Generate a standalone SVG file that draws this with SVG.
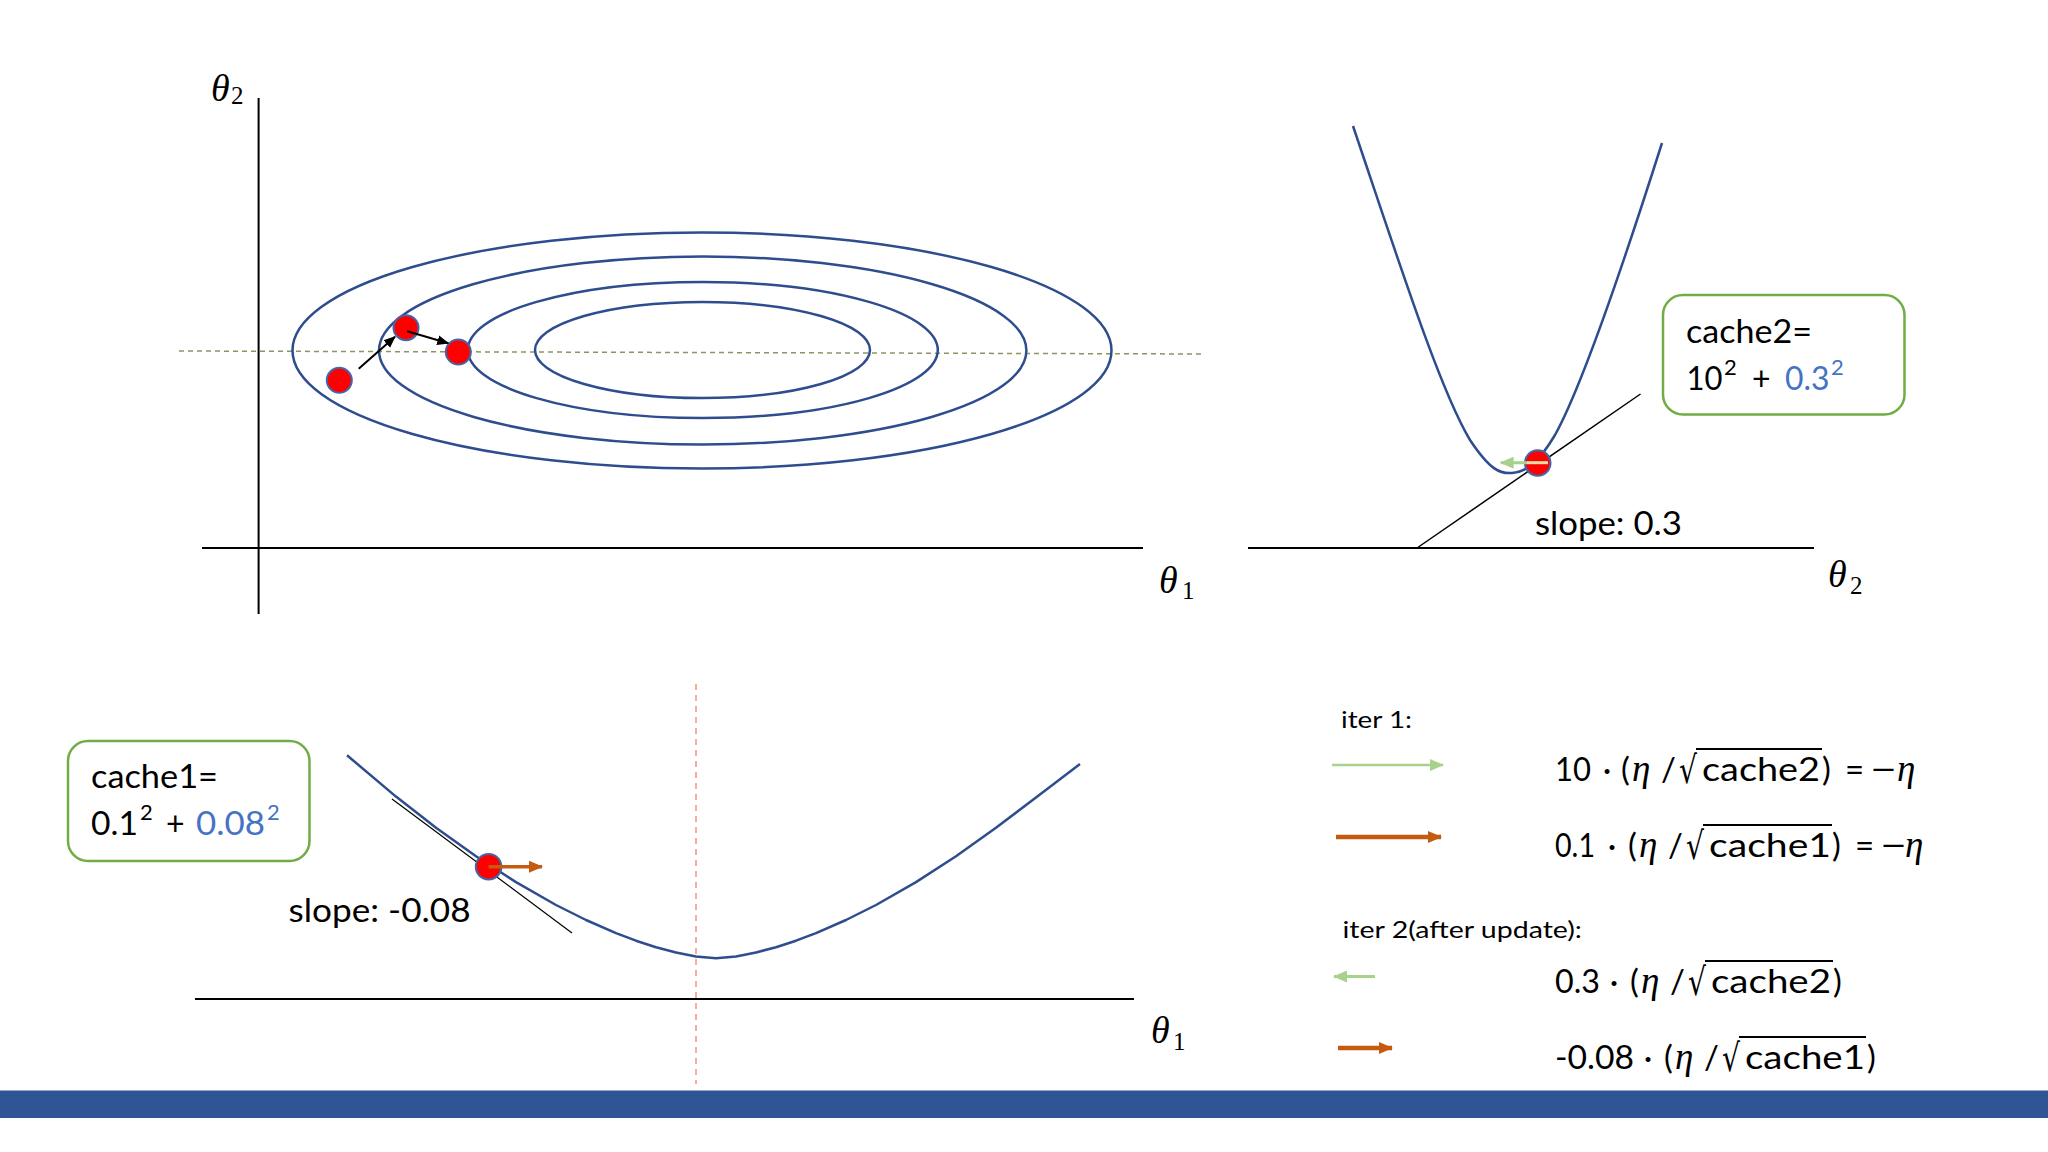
<svg xmlns="http://www.w3.org/2000/svg" width="2048" height="1152" viewBox="0 0 2048 1152">
<style>
 .t{font-family:Lato,"Open Sans",sans-serif;fill:#000}
 .blue{fill:#4472c4}
 .th{font-family:"Liberation Serif","DejaVu Serif",serif;font-style:italic;font-size:38px;fill:#000}
 .sub{font-family:"Liberation Serif","DejaVu Serif",serif;font-size:25px;fill:#000}
 .eta{font-family:"Liberation Serif","DejaVu Serif",serif;font-style:italic;font-size:37px;fill:#000}
 .rad{font-family:"DejaVu Sans",sans-serif;font-size:38px;fill:#000}
 .contour{fill:none;stroke:#2e4d8e;stroke-width:2.5;stroke-linejoin:round}
 .axis{stroke:#000;stroke-width:2}
 .dot{fill:#ff0000;stroke:#4466aa;stroke-width:2}
 .box{fill:#fff;stroke:#70ad47;stroke-width:2.5}
 .vinc{stroke:#000;stroke-width:2}
 .eq{font-size:33px}
 .lab{font-size:32px}
 .sup{font-size:22px}
 .it{font-size:24px}
</style>
<defs>
 <marker id="ahBlack" viewBox="0 0 12 12" refX="11" refY="6" markerWidth="12" markerHeight="12" markerUnits="userSpaceOnUse" orient="auto"><path d="M0,1 L12,6 L0,11 z" fill="#000"/></marker>
 <marker id="ahGreen" viewBox="0 0 14 12" refX="13" refY="6" markerWidth="14" markerHeight="12" markerUnits="userSpaceOnUse" orient="auto"><path d="M0,0 L14,6 L0,12 z" fill="#a9d18e"/></marker>
 <marker id="ahOrange" viewBox="0 0 14 12" refX="13" refY="6" markerWidth="14" markerHeight="12" markerUnits="userSpaceOnUse" orient="auto"><path d="M0,0 L14,6 L0,12 z" fill="#c55a11"/></marker>
</defs>
<rect width="2048" height="1152" fill="#fff"/>

<!-- top-left contour plot -->
<g id="contour-plot">
 <line class="axis" x1="258.6" y1="98" x2="258.6" y2="614"/>
 <line class="axis" x1="202" y1="548" x2="1143" y2="548"/>
 <line x1="179" y1="351" x2="1204" y2="354" stroke="#8a9660" stroke-width="1.5" stroke-dasharray="5,4"/>
 <ellipse class="contour" cx="702" cy="350.5" rx="409.5" ry="118"/>
 <ellipse class="contour" cx="702.7" cy="350.5" rx="323.7" ry="94"/>
 <ellipse class="contour" cx="702.8" cy="350" rx="235" ry="68"/>
 <ellipse class="contour" cx="702.5" cy="350" rx="167.5" ry="48"/>
 <text class="th" x="211" y="101">θ</text><text class="sub" x="231" y="104">2</text>
 <text class="th" x="1159" y="593">θ</text><text class="sub" x="1182" y="599">1</text>
</g>
<g id="dot-a"><circle class="dot" cx="339.3" cy="380.3" r="12.5"/></g>
<g id="dot-b"><circle class="dot" cx="406" cy="327.7" r="12.5"/></g>
<g id="dot-c"><circle class="dot" cx="458.3" cy="352" r="12.5"/></g>

<!-- top-right theta2 slice -->
<g id="theta2-plot">
 <line class="axis" x1="1248" y1="548" x2="1814" y2="548"/>
 <path class="contour" d="M1353,126 C1400,265 1440,390 1470,440 C1490,470 1500,474 1512,473 C1528,472 1540,460 1555,435 C1580,390 1620,275 1662,143"/>
 <line x1="1417" y1="548" x2="1640.5" y2="394" stroke="#000" stroke-width="1.5"/>
 <text class="th" x="1828" y="587">θ</text><text class="sub" x="1850" y="594">2</text>
 <text class="t lab" x="1535" y="535" textLength="147" lengthAdjust="spacingAndGlyphs">slope: 0.3</text>
</g>
<g id="dot-theta2">
 <circle class="dot" cx="1537.7" cy="463" r="12.8"/>
</g>
<g id="cache2-box">
 <rect class="box" x="1663" y="295" width="241.5" height="119.5" rx="20"/>
 <text class="t lab" x="1686" y="343" textLength="126" lengthAdjust="spacingAndGlyphs">cache2=</text>
 <text class="t lab" x="1686.5" y="390" textLength="36" lengthAdjust="spacingAndGlyphs">10</text>
 <text class="t sup" x="1724" y="375">2</text>
 <text class="t lab" x="1752" y="390">+</text>
 <text class="t lab blue" x="1785" y="390" textLength="44.5" lengthAdjust="spacingAndGlyphs">0.3</text>
 <text class="t sup blue" x="1831" y="375">2</text>
</g>

<!-- bottom-left theta1 slice -->
<g id="theta1-plot">
 <line x1="696" y1="684" x2="696" y2="1084" stroke="#f0937a" stroke-width="1.5" stroke-dasharray="6,5"/>
 <line class="axis" x1="195" y1="999" x2="1134" y2="999"/>
 <path class="contour" d="M347,755.3 L396,796.6 L436,827.7 L476,856.3 L516,882.1 L556,905 L586,920 L616,933.2 L636,940.7 L656,947.2 L676,952.5 L696,956.4 L716,958.3 L736,956.4 L756,952.5 L776,947.2 L796,940.7 L816,933.2 L846,920 L876,905 L916,882.1 L956,856.3 L996,827.7 L1036,797.5 L1080,764"/>
 <line x1="392" y1="799" x2="572" y2="933" stroke="#000" stroke-width="1.2"/>
 <text class="th" x="1151" y="1043">θ</text><text class="sub" x="1173" y="1050">1</text>
 <text class="t lab" x="288.6" y="921.7" textLength="182" lengthAdjust="spacingAndGlyphs">slope: -0.08</text>
</g>
<g id="dot-theta1"><circle class="dot" cx="488.6" cy="866.7" r="12.8"/></g>
<g id="cache1-box">
 <rect class="box" x="68" y="741" width="241.5" height="120" rx="20"/>
 <text class="t lab" x="91" y="788" textLength="127" lengthAdjust="spacingAndGlyphs">cache1=</text>
 <text class="t lab" x="91" y="835" textLength="47" lengthAdjust="spacingAndGlyphs">0.1</text>
 <text class="t sup" x="140" y="820">2</text>
 <text class="t lab" x="166" y="835">+</text>
 <text class="t lab blue" x="196" y="835" textLength="69" lengthAdjust="spacingAndGlyphs">0.08</text>
 <text class="t sup blue" x="267" y="820">2</text>
</g>

<!-- connectors / arrows -->
<g id="connectors">
 <line x1="358.7" y1="368.7" x2="395" y2="336.7" stroke="#000" stroke-width="2" marker-end="url(#ahBlack)"/>
 <line x1="407.3" y1="331.3" x2="448.3" y2="343.3" stroke="#000" stroke-width="2" marker-end="url(#ahBlack)"/>
 <line x1="1548" y1="462.7" x2="1500.7" y2="462.7" stroke="#a9d18e" stroke-width="3" marker-end="url(#ahGreen)"/>
 <line x1="1527" y1="462.7" x2="1548" y2="462.7" stroke="#f1d9a6" stroke-width="2.5"/>
 <line x1="488.6" y1="866.7" x2="542" y2="866.7" stroke="#c55a11" stroke-width="3.5" marker-end="url(#ahOrange)"/>
</g>

<!-- legend / equations -->
<g id="legend">
 <text class="t it" x="1341" y="728" textLength="71" lengthAdjust="spacingAndGlyphs">iter 1:</text>
 <line x1="1332" y1="765" x2="1443" y2="765" stroke="#a9d18e" stroke-width="2.5" marker-end="url(#ahGreen)"/>
 <line x1="1336" y1="837" x2="1441" y2="837" stroke="#c55a11" stroke-width="4.5" marker-end="url(#ahOrange)"/>
 <text class="t it" x="1342.5" y="938" textLength="239.5" lengthAdjust="spacingAndGlyphs">iter 2(after update):</text>
 <line x1="1375" y1="976.5" x2="1334" y2="976.5" stroke="#a9d18e" stroke-width="3" marker-end="url(#ahGreen)"/>
 <line x1="1338" y1="1048" x2="1392" y2="1048" stroke="#c55a11" stroke-width="4.5" marker-end="url(#ahOrange)"/>
</g>
<g id="eq1">
 <text class="t eq" x="1555" y="781" textLength="36" lengthAdjust="spacingAndGlyphs">10</text>
 <text class="t eq" x="1607" y="781" text-anchor="middle">·</text>
 <text class="t eq" x="1621" y="781">(</text>
 <text class="eta" x="1632" y="781">η</text>
 <text class="t eq" x="1661" y="781">/</text>
 <text class="rad" x="1679" y="783" textLength="18" lengthAdjust="spacingAndGlyphs">√</text>
 <line class="vinc" x1="1696" y1="749" x2="1822" y2="749"/>
 <text class="t eq" x="1702" y="781" textLength="118" lengthAdjust="spacingAndGlyphs">cache2</text>
 <text class="t eq" x="1822" y="781">)</text>
 <text class="t eq" x="1845" y="781">=</text>
 <text class="t eq" x="1870" y="781" font-size="40" textLength="27" lengthAdjust="spacingAndGlyphs">−</text>
 <text class="eta" x="1897" y="781">η</text>
</g>
<g id="eq2">
 <text class="t eq" x="1555" y="857" textLength="40" lengthAdjust="spacingAndGlyphs">0.1</text>
 <text class="t eq" x="1612" y="857" text-anchor="middle">·</text>
 <text class="t eq" x="1628" y="857">(</text>
 <text class="eta" x="1639" y="857">η</text>
 <text class="t eq" x="1668" y="857">/</text>
 <text class="rad" x="1686" y="859" textLength="18" lengthAdjust="spacingAndGlyphs">√</text>
 <line class="vinc" x1="1703" y1="825" x2="1832" y2="825"/>
 <text class="t eq" x="1709" y="857" textLength="122" lengthAdjust="spacingAndGlyphs">cache1</text>
 <text class="t eq" x="1832" y="857">)</text>
 <text class="t eq" x="1855" y="857">=</text>
 <text class="t eq" x="1880" y="857" font-size="40" textLength="27" lengthAdjust="spacingAndGlyphs">−</text>
 <text class="eta" x="1905" y="857">η</text>
</g>
<g id="eq3">
 <text class="t eq" x="1555" y="993" textLength="45" lengthAdjust="spacingAndGlyphs">0.3</text>
 <text class="t eq" x="1614" y="993" text-anchor="middle">·</text>
 <text class="t eq" x="1630" y="993">(</text>
 <text class="eta" x="1641" y="993">η</text>
 <text class="t eq" x="1670" y="993">/</text>
 <text class="rad" x="1688" y="995" textLength="18" lengthAdjust="spacingAndGlyphs">√</text>
 <line class="vinc" x1="1705" y1="961" x2="1833" y2="961"/>
 <text class="t eq" x="1711" y="993" textLength="120" lengthAdjust="spacingAndGlyphs">cache2</text>
 <text class="t eq" x="1833" y="993">)</text>
</g>
<g id="eq4">
 <text class="t eq" x="1555" y="1069" textLength="79" lengthAdjust="spacingAndGlyphs">-0.08</text>
 <text class="t eq" x="1648" y="1069" text-anchor="middle">·</text>
 <text class="t eq" x="1664" y="1069">(</text>
 <text class="eta" x="1675" y="1069">η</text>
 <text class="t eq" x="1704" y="1069">/</text>
 <text class="rad" x="1722" y="1071" textLength="18" lengthAdjust="spacingAndGlyphs">√</text>
 <line class="vinc" x1="1739" y1="1037" x2="1866" y2="1037"/>
 <text class="t eq" x="1745" y="1069" textLength="120" lengthAdjust="spacingAndGlyphs">cache1</text>
 <text class="t eq" x="1867" y="1069">)</text>
</g>

<rect id="footer-bar" x="0" y="1090.5" width="2048" height="27.5" fill="#2f5597"/>
</svg>
